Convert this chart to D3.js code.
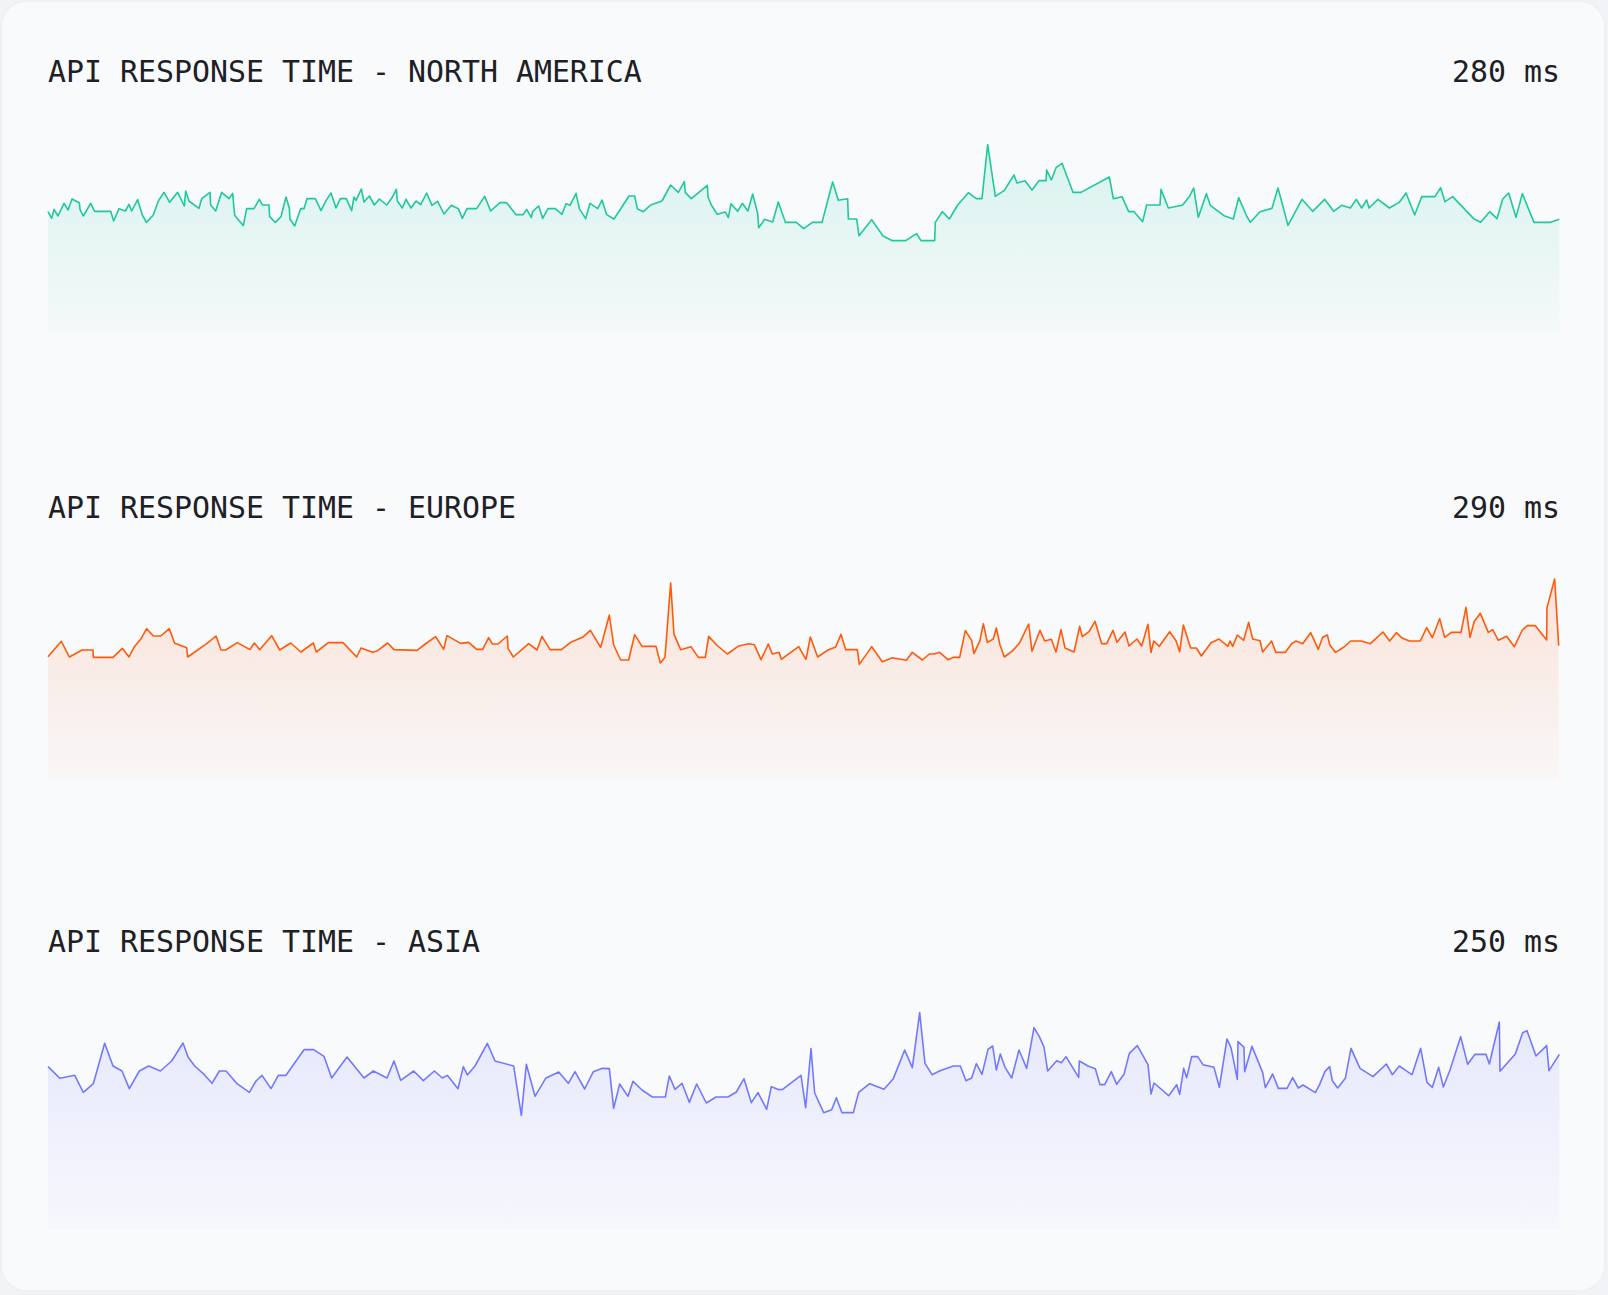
<!DOCTYPE html>
<html><head><meta charset="utf-8">
<script src="https://cdn.jsdelivr.net/npm/d3@7"></script>
<style>
html,body{margin:0;padding:0;background:#f1f3f6;}
svg{display:block;}
</style></head>
<body>
<svg id="c" width="1608" height="1295"></svg>
<script>
// time offsets (s) and response values (scaled ms)
const titles = ["API RESPONSE TIME - NORTH AMERICA", "API RESPONSE TIME - EUROPE", "API RESPONSE TIME - ASIA"];
const headlineValues = ["280 ms", "290 ms", "250 ms"];
const colors = ["#1ec99a", "#ff5a0a", "#7379ff"];

const northAmerica = [[0,355],[11,335],[18,362],[30,342],[48,380],[60,360],[72,393],[94,382],[96,362],[106,342],[128,380],[140,356],[188,356],[197,327],[213,364],[232,357],[243,377],[251,357],[269,391],[283,345],[295,323],[316,345],[331,387],[348,413],[365,383],[389,413],[409,372],[413,417],[423,387],[453,365],[461,394],[486,413],[488,375],[503,357],[521,413],[543,394],[554,410],[560,344],[586,313],[596,364],[618,364],[634,392],[643,375],[663,375],[665,340],[682,323],[699,340],[714,399],[724,365],[726,332],[740,312],[758,364],[768,364],[777,394],[802,394],[819,358],[834,388],[849,411],[864,366],[877,394],[895,394],[911,358],[918,399],[924,389],[940,423],[948,384],[964,402],[979,375],[994,393],[1016,375],[1031,395],[1045,422],[1048,387],[1063,366],[1074,392],[1089,366],[1104,387],[1118,376],[1136,411],[1152,374],[1169,386],[1188,348],[1210,374],[1231,364],[1243,335],[1257,364],[1286,364],[1310,401],[1328,357],[1356,382],[1376,382],[1404,346],[1425,346],[1436,362],[1450,337],[1454,356],[1472,372],
[1484,335],[1500,364],[1522,364],[1542,347],[1554,379],[1566,374],[1584,410],[1594,364],[1613,334],[1626,380],[1649,364],[1662,390],[1676,346],[1698,333],[1743,402],[1760,402],[1768,364],[1786,355],[1808,375],[1842,387],[1868,435],[1891,413],[1909,445],[1912,412],[1930,394],[1978,434],[1980,399],[1990,375],[2008,347],[2032,354],[2041,337],[2049,379],[2069,356],[2083,380],[2100,357],[2114,408],[2129,350],[2132,307],[2150,332],[2174,324],[2191,384],[2212,323],[2245,323],[2267,304],[2293,323],[2322,323],[2354,444],[2371,389],[2399,394],[2401,333],[2426,333],[2433,283],[2471,331],[2505,282],[2533,268],[2573,268],[2606,289],[2619,268],[2660,268],[2662,323],[2683,355],[2704,333],[2729,375],[2761,412],[2785,394],[2802,394],[2819,556],[2842,401],[2869,419],[2898,465],[2907,441],[2931,448],
[2952,420],[2973,448],[2994,448],[2996,480],[3010,450],[3024,487],[3042,500],[3075,413],[3099,413],[3184,459],[3196,394],[3222,400],[3242,355],[3258,355],[3284,325],[3296,375],[3336,375],[3339,422],[3361,366],[3403,374],[3424,400],[3437,426],[3451,338],[3475,409],[3487,374],[3528,343],[3556,333],[3572,397],[3596,342],[3607,323],[3636,355],[3672,365],[3690,426],[3720,314],[3762,392],[3794,356],[3830,392],[3857,356],[3881,374],[3907,366],[3925,392],[3941,366],[3956,390],[3963,366],[3990,392],[4024,366],[4054,383],[4074,411],[4100,345],[4121,400],[4161,400],[4178,427],[4191,385],[4214,400],[4277,334],[4298,323],[4325,355],[4347,334],[4364,393],[4382,411],[4404,338],[4423,409],[4458,323],[4508,323],[4534,332]];

const europe = [[0,295],[40,341],[64,294],[102,315],[135,315],[136,293],[195,293],[223,320],[243,294],[258,323],[278,347],[296,379],[316,357],[338,357],[364,379],[380,335],[416,322],[419,294],[473,332],[504,357],[519,315],[533,315],[568,337],[606,316],[619,336],[635,316],[671,358],[695,315],[728,336],[759,309],[796,336],[805,309],[841,337],[885,337],[926,294],[939,321],[974,308],[989,313],[1019,336],[1038,316],[1107,314],[1136,336],[1163,355],[1187,317],[1197,358],[1238,335],[1262,338],[1286,317],[1304,317],[1322,352],[1333,333],[1350,333],[1378,357],[1380,320],[1396,294],[1442,334],[1467,315],
[1482,356],[1506,316],[1540,316],[1568,338],[1604,353],[1627,374],[1658,323],[1684,420],[1697,330],[1718,285],[1742,285],[1760,361],[1782,326],[1824,326],[1837,276],[1851,293],[1868,516],[1878,362],[1898,316],[1929,325],[1951,293],[1972,293],[1982,356],[2006,330],[2038,303],[2070,326],[2102,334],[2119,331],[2139,286],[2161,333],[2173,303],[2193,308],[2200,287],[2252,325],[2274,287],[2287,354],[2309,294],[2338,314],[2363,324],[2379,362],[2393,316],[2428,316],[2434,272],[2471,325],[2503,280],[2533,292],[2575,284],[2593,308],[2623,285],[2644,303],[2659,303],[2675,308],[2700,286],[2717,293],[2735,293],[2752,373],[2771,344],[2778,304],[2796,344],[2806,394],[2818,338],[2836,348],[2845,381],[2856,330],[2869,294],[2894,313],[2914,335],[2942,393],
[2952,311],[2976,374],[2990,342],[3010,347],[3024,309],[3039,376],[3051,321],[3078,309],[3095,386],[3103,355],[3123,370],[3141,401],[3161,334],[3176,334],[3195,374],[3207,338],[3231,369],[3243,327],[3267,348],[3281,327],[3300,392],[3309,307],[3317,342],[3334,326],[3365,370],[3384,343],[3395,310],[3406,390],[3428,321],[3445,321],[3460,297],[3489,337],[3513,348],[3540,326],[3546,342],[3554,326],[3568,360],[3587,344],[3602,398],[3614,348],[3636,343],[3644,309],[3671,342],[3683,308],[3712,308],[3731,334],[3744,342],[3764,334],[3788,367],[3811,317],[3824,353],[3838,360],[3845,331],[3862,308],[3888,324],[3908,342],[3940,342],[3967,334],[4005,369],[4025,342],[4045,367],[4061,352],[4084,342],[4117,342],[4136,382],[4153,352],[4175,409],[4190,353],[4210,368],[4239,368],[4254,443],[4266,353],[4279,401],[4297,425],[4321,368],[4334,376],[4351,344],[4376,356],[4399,325],[4423,375],[4438,388],[4462,388],[4496,345],[4497,442],[4520,528],[4532,328]];

const asia = [[0,340],[36,305],[80,314],[106,263],[136,289],[170,410],[195,342],[222,327],[244,274],[274,327],[302,342],[337,327],[371,357],[405,411],[420,369],[440,342],[469,316],[492,290],[514,327],[534,327],[566,290],[604,263],[624,297],[642,314],[669,274],[691,314],[714,314],[768,391],[797,391],[828,371],[851,306],[897,369],[948,306],[976,327],[1017,306],[1038,357],[1058,299],[1097,327],[1126,298],[1159,327],[1183,306],[1198,314],[1230,274],[1246,340],[1258,315],[1281,342],[1318,410],[1341,357],[1397,342],
[1420,194],[1435,347],[1461,251],[1493,305],[1532,324],[1561,290],[1581,325],[1610,273],[1636,325],[1663,335],[1684,334],[1697,215],[1715,288],[1740,251],[1755,296],[1782,270],[1813,249],[1852,249],[1864,312],[1881,272],[1902,290],[1924,233],[1946,288],[1975,231],[2004,249],[2040,249],[2065,264],[2088,304],[2110,232],[2130,262],[2156,212],[2170,280],[2193,271],[2204,272],[2259,314],[2273,217],[2289,394],[2300,261],[2327,202],[2351,211],[2365,247],[2382,202],[2416,202],[2432,263],[2465,289],[2508,272],[2536,304],[2570,390],[2593,337],[2615,502],[2631,350],[2652,316],[2676,328],[2716,342],[2737,342],[2754,298],[2771,306],[2785,349],[2802,317],[2820,392],[2834,402],[2845,330],[2857,378],[2871,338],[2891,306],[2913,390],
[2936,335],[2958,457],[2974,430],[2988,399],[2999,327],[3026,358],[3040,352],[3054,370],[3092,308],[3094,357],[3120,342],[3142,334],[3156,286],[3170,286],[3190,325],[3206,287],[3228,317],[3244,380],[3268,403],[3300,346],[3309,258],[3318,291],[3362,253],[3386,286],[3395,257],[3407,335],[3416,307],[3431,370],[3449,370],[3465,346],[3498,338],[3514,278],[3537,423],[3549,397],[3568,302],[3570,415],[3588,398],[3590,325],[3612,401],[3644,322],[3652,277],[3674,318],[3691,275],[3717,275],[3734,307],[3751,276],[3765,285],[3802,262],[3815,287],[3831,326],[3845,340],[3853,298],[3869,276],[3892,305],[3909,395],[3936,335],[3975,310],[4015,348],[4033,316],[4054,342],[4074,328],[4092,316],[4118,395],[4137,293],[4153,278],[4172,338],[4186,279],[4206,330],[4238,430],[4259,347],[4281,377],[4314,377],[4324,348],[4354,474],[4356,326],[4402,378],[4424,442],[4437,448],[4464,372],[4496,403],[4503,328],[4534,377]];

const series = [northAmerica, europe, asia];
const timeDomain = [0, 4536];
const valueDomain = [0, 600];

const svg = d3.select("#c");
svg.append("rect").attr("x",1).attr("y",1).attr("width",1604).attr("height",1290)
  .attr("rx",26).attr("fill","#f9fafc").attr("stroke","#eef0f3").attr("stroke-width",1.5);

const left = 48, right = 1560;
const panels = [
  {top:130, fillBottom:334, baseline:82},
  {top:555, fillBottom:780, baseline:518},
  {top:980, fillBottom:1230, baseline:952}
];
const x = d3.scaleLinear().domain(timeDomain).range([left, right]);
const defs = svg.append("defs");

panels.forEach((p, i) => {
  const y = d3.scaleLinear().domain(valueDomain).range([p.top + 200, p.top]);
  const data = series[i];
  const gid = "g" + i;
  const grad = defs.append("linearGradient").attr("id", gid)
    .attr("gradientUnits","userSpaceOnUse").attr("x1",0).attr("x2",0)
    .attr("y1", p.top).attr("y2", p.fillBottom);
  grad.append("stop").attr("offset","0%").attr("stop-color",colors[i]).attr("stop-opacity",0.16);
  grad.append("stop").attr("offset","100%").attr("stop-color",colors[i]).attr("stop-opacity",0.02);

  const area = d3.area().x(d => x(d[0])).y0(p.fillBottom).y1(d => y(d[1]));
  const line = d3.line().x(d => x(d[0])).y(d => y(d[1]));
  svg.append("path").datum(data).attr("d", area).attr("fill", `url(#${gid})`);
  svg.append("path").datum(data).attr("d", line).attr("fill","none")
    .attr("stroke", colors[i]).attr("stroke-width",1.6).attr("stroke-linejoin","round");

  svg.append("text").attr("x", left).attr("y", p.baseline).text(titles[i])
    .attr("font-family","'DejaVu Sans Mono', 'Liberation Mono', monospace")
    .attr("font-size",29.9).attr("fill","#1d2125");
  svg.append("text").attr("x", right).attr("y", p.baseline).attr("text-anchor","end").text(headlineValues[i])
    .attr("font-family","'DejaVu Sans Mono', 'Liberation Mono', monospace")
    .attr("font-size",29.9).attr("fill","#1d2125");
});
</script>
</body></html>
